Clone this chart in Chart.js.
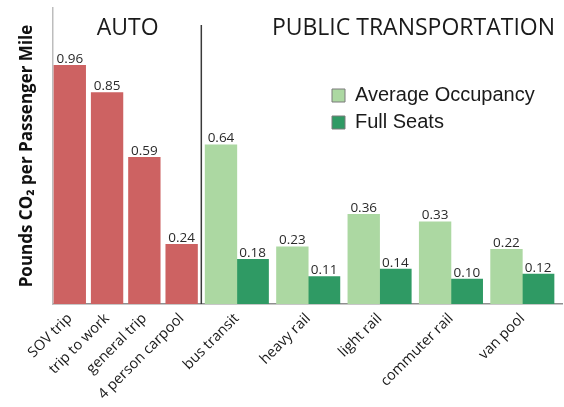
<!DOCTYPE html>
<html>
<head>
<meta charset="utf-8">
<script src="https://cdn.jsdelivr.net/npm/chart.js@4.4.1/dist/chart.umd.min.js"></script>
<style>
  html, body { margin: 0; padding: 0; background: #ffffff; }
  #wrap { position: relative; width: 564px; height: 407px; }
</style>
</head>
<body>
<div id="wrap"><canvas id="c"></canvas></div>
<script>
// ---- data ----
const autoCategories = ['SOV trip', 'trip to work', 'general trip', '4 person carpool'];
const autoValues = [0.96, 0.85, 0.59, 0.24];
const publicCategories = ['bus transit', 'heavy rail', 'light rail', 'commuter rail', 'van pool'];
const avgOccupancy = [0.64, 0.23, 0.36, 0.33, 0.22];
const fullSeats = [0.18, 0.11, 0.14, 0.10, 0.12];
const seriesNames = ['Auto', 'Average Occupancy', 'Full Seats'];
const sectionTitles = ['AUTO', 'PUBLIC TRANSPORTATION'];
const yAxisTitle = 'Pounds CO\u2082 per Passenger Mile';

// ---- layout (axis units: one auto slot = 1) ----
const X_MAX = 13.65;
const AUTO_FIRST = 0.45;
const PUB_FIRST = 4.93;
const PUB_STEP = 1.914;
const PAIR_HALF = 0.425;
const Y_MAX = 1.19;

const RED = '#cd6262', LIGHT = '#acd8a2', DARK = '#2f9a64';
const FONT = "'Open Sans', 'Noto Sans', sans-serif";

const autoX = autoCategories.map((_, i) => AUTO_FIRST + i);
const pubX = publicCategories.map((_, i) => PUB_FIRST + i * PUB_STEP);
const tickPositions = autoX.concat(pubX);
const tickLabels = autoCategories.concat(publicCategories);

const valueLabels = {
  id: 'valueLabels',
  afterDatasetsDraw(chart) {
    const ctx = chart.ctx;
    ctx.save();
    ctx.font = "13.5px " + FONT;
    ctx.fillStyle = '#2a2a2a';
    ctx.textAlign = 'center';
    ctx.textBaseline = 'alphabetic';
    chart.data.datasets.forEach((ds, di) => {
      chart.getDatasetMeta(di).data.forEach((el, i) => {
        ctx.fillText(ds.data[i].y.toFixed(2), el.x, el.y - 2.5);
      });
    });
    ctx.restore();
  }
};

const decorations = {
  id: 'decorations',
  afterDraw(chart) {
    const ctx = chart.ctx;
    const xs = chart.scales.x, ys = chart.scales.y;
    const ca = chart.chartArea;
    // divider between sections
    const divX = xs.getPixelForValue((autoX[autoX.length - 1] + pubX[0] - PAIR_HALF) / 2);
    ctx.save();
    ctx.strokeStyle = '#3a3a3a';
    ctx.lineWidth = 1.5;
    ctx.beginPath();
    ctx.moveTo(divX, ca.top + 17);
    ctx.lineTo(divX, ys.getPixelForValue(0));
    ctx.stroke();
    // section titles
    ctx.fillStyle = '#1a1a1a';
    ctx.font = "23px " + FONT;
    ctx.textBaseline = 'alphabetic';
    ctx.textAlign = 'center';
    const autoCenter = xs.getPixelForValue((autoX[0] + autoX[autoX.length - 1]) / 2);
    ctx.fillText(sectionTitles[0], autoCenter + 2, ca.top + 27);
    const lastMeta = chart.getDatasetMeta(2).data;
    const lastBar = lastMeta[lastMeta.length - 1];
    ctx.textAlign = 'right';
    ctx.fillText(sectionTitles[1], lastBar.x + lastBar.width / 2 + 1, ca.top + 27);
    ctx.restore();
  }
};

const legendPlacer = {
  id: 'legendPlacer',
  afterLayout(chart) {
    const lg = chart.legend;
    if (!lg) return;
    const ca = chart.chartArea;
    const pad = lg.options.labels.padding;
    lg.left = ca.left + 279 - pad;
    lg.top = ca.top + 77.5 - pad;
    lg.right = lg.left + 240;
    lg.bottom = lg.top + 200;
    lg.width = 240;
    lg.height = 200;
  }
};

new Chart(document.getElementById('c'), {
  type: 'bar',
  data: {
    datasets: [
      { label: seriesNames[0], data: autoValues.map((v, i) => ({ x: autoX[i], y: v })), backgroundColor: RED },
      { label: seriesNames[1], data: avgOccupancy.map((v, i) => ({ x: pubX[i] - PAIR_HALF, y: v })), backgroundColor: LIGHT },
      { label: seriesNames[2], data: fullSeats.map((v, i) => ({ x: pubX[i] + PAIR_HALF, y: v })), backgroundColor: DARK }
    ]
  },
  options: {
    responsive: true,
    maintainAspectRatio: false,
    animation: false,
    events: [],
    grouped: false,
    barPercentage: 1,
    categoryPercentage: 1,
    borderWidth: 0,
    layout: { padding: { top: 8, right: 2, left: 0, bottom: 0 } },
    scales: {
      x: {
        type: 'linear',
        offset: false,
        min: 0,
        max: X_MAX,
        grid: { display: false, drawTicks: false, offset: false },
        border: { display: true, color: '#8f8f8f', width: 1.5 },
        afterBuildTicks(axis) { axis.ticks = tickPositions.map(v => ({ value: v })); },
        afterFit(axis) { axis.height = 103; axis.paddingLeft = 0; axis.paddingRight = 0; },
        ticks: {
          autoSkip: false,
          minRotation: 45,
          maxRotation: 45,
          padding: 6,
          color: '#1a1a1a',
          font: { family: FONT, size: 14.5 },
          callback: (v, i) => tickLabels[i]
        }
      },
      y: {
        min: 0,
        max: Y_MAX,
        ticks: { display: false },
        grid: { display: false, drawTicks: false },
        border: { display: true, color: '#bdbdbd', width: 1.5 },
        afterFit(axis) { axis.width = 53; axis.paddingTop = 0; axis.paddingBottom = 0; },
        title: {
          display: true,
          text: yAxisTitle,
          color: '#111111',
          font: { family: FONT, size: 17, weight: 'bold' },
          padding: { top: 16.5, bottom: 0 }
        }
      }
    },
    plugins: {
      tooltip: { enabled: false },
      legend: {
        display: true,
        position: 'chartArea',
        align: 'start',
        labels: {
          boxWidth: 13,
          boxHeight: 13,
          padding: 7,
          color: '#1a1a1a',
          font: { family: "'Liberation Sans', Arial, sans-serif", size: 20 },
          filter: (item) => item.datasetIndex > 0,
          generateLabels(chart) {
            const items = Chart.defaults.plugins.legend.labels.generateLabels(chart);
            items.forEach(it => { it.strokeStyle = '#7a7a7a'; it.lineWidth = 1; });
            return items;
          }
        }
      }
    }
  },
  plugins: [valueLabels, decorations, legendPlacer]
});
</script>
</body>
</html>
